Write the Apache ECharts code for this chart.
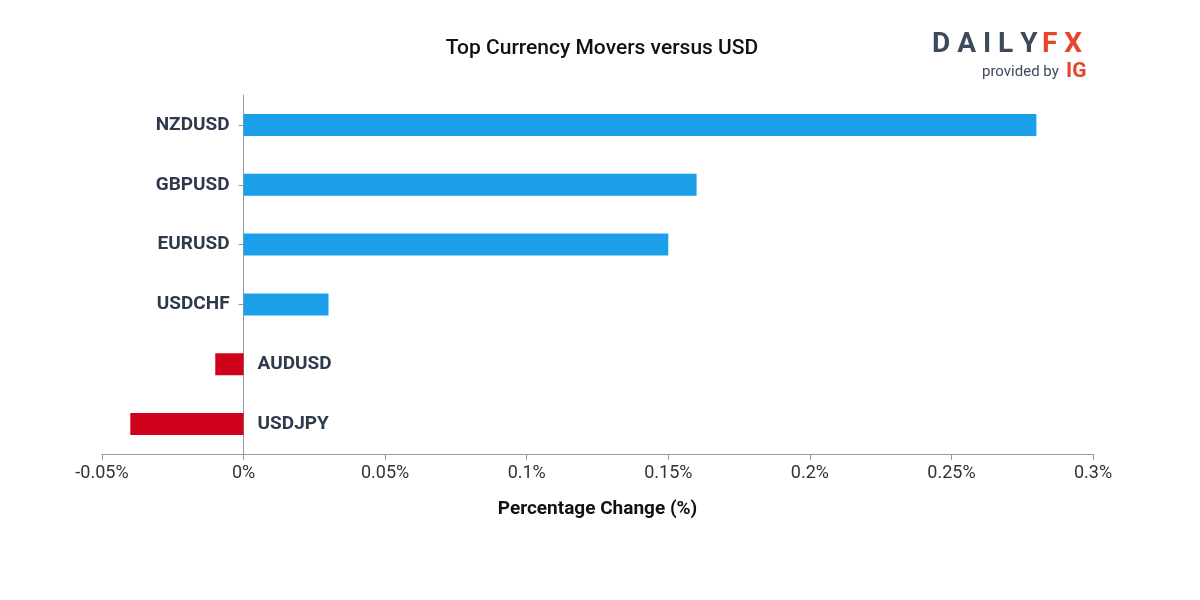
<!DOCTYPE html><html><head><meta charset="utf-8"><script src="https://cdn.jsdelivr.net/npm/echarts@6/dist/echarts.min.js"></script></head><body style="margin:0"><div id="c" style="width:1200px;height:600px"></div><script>
const categories=['USDJPY','AUDUSD','USDCHF','EURUSD','GBPUSD','NZDUSD'];
const values=[-0.04,-0.01,0.03,0.15,0.16,0.28];
const xTicks=[-0.05,0,0.05,0.1,0.15,0.2,0.25,0.3];
const c=echarts.init(document.getElementById('c'));
c.setOption({
 title:{text:'Top Currency Movers versus USD',left:597,top:33,textAlign:'center',textStyle:{fontFamily:'Roboto',fontSize:21,fontWeight:500,color:'#111'}},
 graphic:[
  {type:'text',left:932,top:31,style:{text:'D A I L Y',font:'bold 28px Roboto',fill:'#3d4a5c'}},
  {type:'text',left:1042,top:31,style:{text:'F X',font:'bold 28px Roboto',fill:'#e8432c'}},
  {type:'text',left:982,top:65,style:{text:'provided by',font:'15px Roboto',fill:'#3d4a5c'}},
  {type:'text',left:1066,top:61,style:{text:'IG',font:'bold 21px Roboto',fill:'#e8432c'}}
 ],
 grid:{left:102,right:107,top:95,bottom:146},
 xAxis:{type:'value',min:-0.05,max:0.3,interval:0.05,name:'Percentage Change (%)',nameLocation:'middle',nameGap:46,
  nameTextStyle:{fontFamily:'Roboto',fontSize:19,fontWeight:'bold',color:'#111'},
  axisLine:{show:true,lineStyle:{color:'#999'}},axisTick:{show:true,length:6,lineStyle:{color:'#999'}},splitLine:{show:false},
  axisLabel:{fontFamily:'Roboto',fontSize:18,color:'#333',margin:10,formatter:v=>{const r=Math.round(v*100)/100;return String(r)+'%';}}},
 yAxis:{type:'category',data:categories,axisLine:{onZero:true,lineStyle:{color:'#999'}},axisTick:{show:true,alignWithLabel:true,length:5,lineStyle:{color:'#999'}},axisLabel:{show:false}},
 series:[{type:'bar',barWidth:22,data:values.map((v,i)=>({value:v,itemStyle:{color:v>=0?'#1a9fe8':'#d0021b'},
  label:{show:true,position:v>=0?'left':'right',distance:14,formatter:categories[i],fontFamily:'Roboto',fontSize:19,fontWeight:'bold',color:'#2e3a4c'}}))}]
});
</script></body></html>
